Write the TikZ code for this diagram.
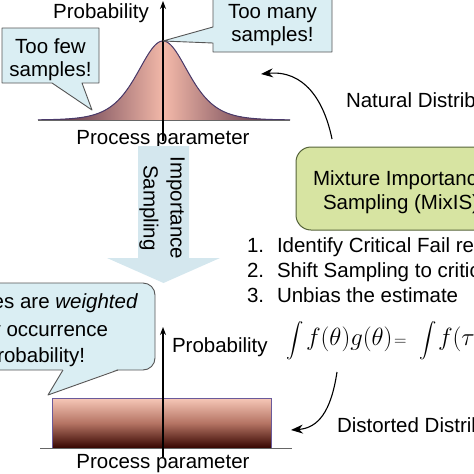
\documentclass[tikz,border=0pt]{standalone}
\usepackage{exscale}
\usepackage{fontspec}
\setmainfont{Liberation Sans}
\usetikzlibrary{arrows.meta}
\definecolor{callfill}{HTML}{DAEEF3}
\definecolor{callline}{HTML}{555555}
\definecolor{tailc}{HTML}{3E1B36}
\definecolor{pinkc}{HTML}{F3B9A9}
\definecolor{curvec}{HTML}{4A3A6A}
\definecolor{rtop}{HTML}{F7C8B8}
\definecolor{rmid}{HTML}{B57464}
\definecolor{rbot}{HTML}{360500}
\definecolor{rline}{HTML}{6A5A9A}
\definecolor{arrfill}{HTML}{D4E7EE}
\definecolor{mixfill}{HTML}{D7E4A2}
\definecolor{mixline}{HTML}{55633A}
\definecolor{basec}{HTML}{666666}
\tikzset{
  txt/.style={inner sep=0pt, outer sep=0pt, anchor=base},
  txtw/.style={inner sep=0pt, outer sep=0pt, anchor=base west},
  txte/.style={inner sep=0pt, outer sep=0pt, anchor=base east},
  mathbig/.style={txtw, font=\fontsize{24}{28}\selectfont},
  mathint/.style={txtw, font=\fontsize{19}{23}\selectfont},
  callout/.style={fill=callfill, draw=callline, line width=0.9pt, line join=round},
  axisline/.style={draw=black, line width=1.1pt, -{Stealth[length=8pt,width=6pt]}},
  axbase/.style={draw=basec, line width=1pt},
  curvearrow/.style={draw=black, line width=1.1pt, -{Stealth[length=12pt,width=9pt]}},
}
\begin{document}
\begin{tikzpicture}[x=1pt,y=-1pt,font=\fontsize{20.5}{24}\selectfont]
\useasboundingbox (0,0) rectangle (474,474);
\clip (0,0) rectangle (474,474);

% ---------- top plot ----------
\fill[left color=tailc, right color=tailc, middle color=pinkc]
  (38,120) -- plot[domain=38:290, samples=160] (\x,{120-79/(cosh((\x-163)/34))^2}) -- (290,120) -- cycle;
\draw[curvec, line width=1pt] plot[domain=38:290, samples=160] (\x,{120-79/(cosh((\x-163)/34))^2});
\draw[axbase] (38,120) -- (290,120);
\coordinate (tAxB) at (163,141);
\coordinate (tAxT) at (163,1);
\draw[axisline] (tAxB) -- (tAxT);
\node[txt] (tProb) at (101,18) {Probability};
\node[txt] (tProc) at (163,144) {Process parameter};

% callout: too few
\draw[callout] (2,28) -- (99,28) -- (99,83) -- (82,83) -- (92,110) -- (52,83) -- (2,83) -- cycle;
\node[txt] (few1) at (50.5,53) {Too few};
\node[txt] (few2) at (50.5,76) {samples!};

% callout: too many
\draw[callout] (213,-3) -- (332,-3) -- (332,52) -- (213,52) -- (213,43) -- (163,41) -- (213,27) -- cycle;
\node[txt] (many1) at (272.5,18) {Too many};
\node[txt] (many2) at (272.5,41) {samples!};

% ---------- importance sampling arrow ----------
\fill[arrfill] (138,146) -- (189,146) -- (189,258) -- (220,258) -- (163.5,283) -- (107,258) -- (138,258) -- cycle;
\node[inner sep=0pt, rotate=-90, align=center, font=\fontsize{20.5}{27}\selectfont] (isText) at (162,208) {Importance\\Sampling};

% ---------- MixIS box ----------
\node[draw=mixline, fill=mixfill, line width=1pt, rounded corners=15pt, minimum width=210pt, minimum height=83pt, inner sep=0pt] (mix) at (401,188.5) {};
\node[txtw] (mix1) at (313,185) {Mixture Importance};
\node[txtw] (mix2) at (323,209) {Sampling (MixIS)};

\node[txtw] (n1) at (247,252) {1.};
\node[txtw] (l1) at (277,252) {Identify Critical Fail regions};
\node[txtw] (n2) at (247,277) {2.};
\node[txtw] (l2) at (277,277) {Shift Sampling to critical regions};
\node[txtw] (n3) at (247,302) {3.};
\node[txtw] (l3) at (277,302) {Unbias the estimate};

% formula
\node[mathint] (int1) at (286,345) {$\displaystyle\int$};
\node[mathbig] (fg) at (306,345) {$f(\theta)g(\theta)$};
\node[mathint] (eq) at (394,345) {$=$};
\node[mathint] (int2) at (419,345) {$\displaystyle\int$};
\node[mathbig] (ft) at (438,345) {$f(\tau)$};

\node[txtw] (natural) at (346,107) {Natural Distribution};
\node[txtw] (distorted) at (337,432) {Distorted Distribution};

% curved arrows
\coordinate (natStart) at (332,139);
\coordinate (natTip) at (261,74);
\draw[curvearrow] (natStart) .. controls (324,100) and (304,70) .. (natTip);
\coordinate (disStart) at (337,372);
\coordinate (disTip) at (291,430);
\draw[curvearrow] (disStart) .. controls (331,412) and (318,428) .. (disTip);

% ---------- bottom plot ----------
\draw[rline, line width=1pt, top color=rtop, bottom color=rbot, middle color=rmid] (52,398) rectangle (271,448);
\draw[axbase] (40,448) -- (292,448);
\coordinate (bAxB) at (163,457);
\coordinate (bAxT) at (163,327);
\draw[axisline] (bAxB) -- (bAxT);
\node[txtw] (bProb) at (172,352) {Probability};
\node[txt] (bProc) at (163,468) {Process parameter};

% callout: weighted
\draw[callout, rounded corners=12pt] (-40,283) rectangle (155,370);
\fill[callfill] (63,369) -- (48,395) -- (118,369) -- (118,366) -- (63,366) -- cycle;
\draw[callout, fill=none] (63,370) -- (48,395) -- (118,370);
\node[txte] (w1) at (138,308) {Samples are \textit{weighted}};
\node[txte] (w2) at (108,336) {by occurrence};
\node[txte] (w3) at (85,362) {probability!};
\end{tikzpicture}
\end{document}
